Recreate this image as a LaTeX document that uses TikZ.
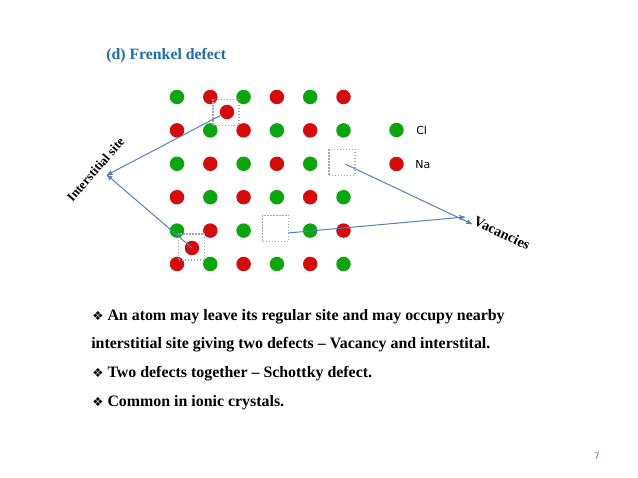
\documentclass[tikz,border=0pt]{standalone}
\usepackage{fontspec}
\setmainfont{Liberation Serif}
\newfontfamily\symfont{DejaVu Sans}
\usepackage{tikz}
\usetikzlibrary{arrows}
\definecolor{natom}{HTML}{D50C0C}
\definecolor{clatom}{HTML}{0BA60F}
\definecolor{arrowblue}{HTML}{4F81BD}
\definecolor{titleblue}{HTML}{1F6CA6}
\newcommand{\bul}{{\symfont\fontsize{12.5}{12.5}\selectfont\char"2756}\hspace{4pt}}

\begin{document}
\begin{tikzpicture}[x=1pt,y=-1pt,>=stealth',semithick]
  \tikzstyle{every node}=[inner sep=0pt]
  \tikzstyle{cl}=[circle,fill=clatom,minimum size=14.5pt]
  \tikzstyle{na}=[circle,fill=natom,minimum size=14.5pt]
  \tikzstyle{site}=[draw=gray!70,line width=1.3pt,dash pattern=on 1.3pt off 1.7pt,minimum size=26pt]
  \tikzstyle{link}=[->,draw=arrowblue,line width=1pt]
  \tikzstyle{line}=[anchor=base west,font=\fontsize{15.9}{15.9}\selectfont\bfseries]
  \tikzstyle{legend}=[anchor=west,font=\fontsize{11}{11}\selectfont\symfont]

  \useasboundingbox (0,0) rectangle (638,478);

  \node[anchor=base west,text=titleblue,font=\fontsize{15.8}{15.8}\selectfont\bfseries]
    (title) at (106,60) {(d) Frenkel defect};

  % lattice, the two empty places are left out
  \foreach \r in {1,...,6}
    \foreach \c in {1,...,6} {
      \pgfmathtruncatemacro{\odd}{mod(\r+\c,2)}
      \pgfmathtruncatemacro{\code}{10*\r+\c}
      \ifnum\code=36 \else \ifnum\code=54 \else
        \ifnum\odd=0
          \node[cl] (a\r\c) at ({177+33.3*(\c-1)},{97+33.4*(\r-1)}) {};
        \else
          \node[na] (a\r\c) at ({177+33.3*(\c-1)},{97+33.4*(\r-1)}) {};
        \fi
      \fi \fi
    }

  \node[site] (box1) at (226,112.5) {};
  \node[site] (box2) at (191.5,247) {};
  \node[site] (vac1) at (342,162.5) {};
  \node[site] (vac2) at (275.5,228.5) {};
  \node[na] (int1) at (227,112) {};
  \node[na] (int2) at (192,248) {};

  \node[cl] (keycl) at (396.5,130) {};
  \node[na] (keyna) at (396.5,164) {};
  \node[legend] (cl) at (416,130.5) {Cl};
  \node[legend] (na) at (415,164.5) {Na};

  \coordinate (isite) at (107,175);
  \coordinate (vend1) at (472,224);
  \coordinate (vend2) at (465,217);
  \coordinate (vstart) at (345,164);
  \coordinate (vs2) at (288,233);

  \draw[link] (int1) -- (isite);
  \draw[link] (int2.center) -- (isite);
  \draw[link] (vstart) -- (vend1);
  \draw[link] (vs2) -- (vend2);

  \node[rotate=49,font=\fontsize{12.8}{12.8}\selectfont\bfseries] (ilabel) at (95.5,169.5) {Interstitial site};
  \node[rotate=-25,font=\fontsize{14.3}{14.3}\selectfont\bfseries] (vlabel) at (502,233) {Vacancies};

  \node[line] (l1) at (92,321) {\bul An atom may leave its regular site and may occupy nearby};
  \node[line] (l2) at (91,349) {interstitial site giving two defects -- Vacancy and interstital.};
  \node[line] (l3) at (92,378) {\bul Two defects together -- Schottky defect.};
  \node[line] (l4) at (92,407) {\bul Common in ionic crystals.};

  \node[text=arrowblue!80!gray,font=\fontsize{9}{9}\selectfont\symfont] (page) at (597,456) {7};
\end{tikzpicture}
\end{document}
